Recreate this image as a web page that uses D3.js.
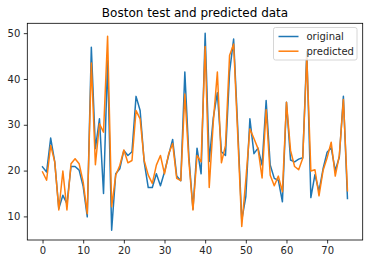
<!DOCTYPE html>
<html>
<head>
<meta charset="utf-8">
<script src="https://cdn.jsdelivr.net/npm/d3@7"></script>
<style>
  body { margin: 0; background: #fff; }
  svg { display: block; font-family: "DejaVu Sans", sans-serif; }
</style>
</head>
<body>
<div id="chart"></div>
<script>
// Data (index = test sample number)
const original = [
  20.8, 19.7, 27.1, 21.9, 11.7, 14.6, 12.8, 20.9, 20.9, 20.1,
  16.5, 9.9, 46.9, 24.8, 31.3, 15.0, 44.0, 7.0, 19.3, 20.4,
  24.4, 23.3, 24.1, 36.2, 33.1, 21.9, 16.3, 16.3, 19.3, 16.7,
  19.7, 23.3, 26.8, 18.8, 17.8, 41.5, 23.0, 11.6, 24.9, 19.3,
  50.0, 22.0, 31.5, 37.0, 24.1, 23.3, 41.5, 48.7, 29.5, 9.2,
  14.3, 31.3, 23.7, 24.9, 21.2, 35.3, 21.2, 18.3, 17.9, 13.2,
  34.9, 22.3, 21.9, 22.5, 22.8, 46.0, 14.1, 19.1, 15.5, 20.4,
  24.0, 25.0, 20.0, 22.9, 36.2, 13.9
];
const predicted = [
  19.7, 17.9, 25.5, 21.9, 11.4, 19.9, 11.4, 21.5, 22.6, 21.5,
  17.5, 10.6, 43.5, 21.3, 30.2, 28.4, 49.3, 12.1, 19.0, 21.1,
  24.5, 21.7, 22.2, 33.1, 31.3, 22.2, 19.0, 17.2, 21.2, 23.3,
  19.3, 23.6, 25.9, 18.3, 17.8, 36.7, 22.0, 11.4, 23.3, 21.9,
  47.1, 16.3, 30.6, 41.5, 21.7, 25.5, 45.1, 47.6, 28.0, 7.8,
  18.0, 29.1, 27.0, 24.8, 18.4, 33.3, 19.0, 16.7, 18.8, 15.4,
  34.9, 24.4, 20.9, 20.2, 22.7, 44.8, 19.9, 20.2, 14.5, 20.0,
  22.8, 26.2, 18.8, 23.3, 35.5, 15.6
];
const seriesNames = ["original", "predicted"];
const colors = ["#1f77b4", "#ff7f0e"];
const xTicks = [0, 10, 20, 30, 40, 50, 60, 70];
const yTicks = [10, 20, 30, 40, 50];
const title = "Boston test and predicted data";

// Dimensions
const width = 368;
const height = 264;
const marginLeft = 27.3;
const marginRight = 5.3;
const marginTop = 23.3;
const marginBottom = 24;

// Matplotlib-style 5% padding on both axes
const n = original.length;
const xPad = (n - 1) * 0.05;
const allValues = original.concat(predicted);
const [yMin, yMax] = d3.extent(allValues);
const yPad = (yMax - yMin) * 0.05;

const xScale = d3
  .scaleLinear()
  .domain([-xPad, n - 1 + xPad])
  .range([marginLeft, width - marginRight]);

const yScale = d3
  .scaleLinear()
  .domain([yMin - yPad, yMax + yPad])
  .range([height - marginBottom, marginTop]);

const svg = d3
  .create("svg")
  .attr("width", width)
  .attr("height", height)
  .attr("viewBox", [0, 0, width, height]);

// Clip lines to the axes area
svg
  .append("defs")
  .append("clipPath")
  .attr("id", "plot-area")
  .append("rect")
  .attr("x", marginLeft)
  .attr("y", marginTop)
  .attr("width", width - marginLeft - marginRight)
  .attr("height", height - marginTop - marginBottom);

// Lines
const line = d3
  .line()
  .x((d, i) => xScale(i))
  .y((d) => yScale(d));

svg
  .append("g")
  .attr("clip-path", "url(#plot-area)")
  .selectAll("path")
  .data([original, predicted])
  .join("path")
  .attr("fill", "none")
  .attr("stroke", (d, i) => colors[i])
  .attr("stroke-width", 1.5)
  .attr("stroke-linejoin", "round")
  .attr("stroke-linecap", "square")
  .attr("d", line);

// X axis
svg
  .append("g")
  .attr("transform", `translate(0,${height - marginBottom})`)
  .call(
    d3.axisBottom(xScale).tickValues(xTicks).tickSize(3.5).tickPadding(3.5),
  )
  .call((g) => g.select(".domain").remove())
  .call((g) => g.selectAll("line").attr("stroke", "#000").attr("stroke-width", 0.8))
  .call((g) =>
    g.selectAll("text").attr("fill", "#262626").attr("font-size", 10).attr("font-family", "DejaVu Sans"),
  );

// Y axis
svg
  .append("g")
  .attr("transform", `translate(${marginLeft},0)`)
  .call(d3.axisLeft(yScale).tickValues(yTicks).tickSize(3.5).tickPadding(3.5))
  .call((g) => g.select(".domain").remove())
  .call((g) => g.selectAll("line").attr("stroke", "#000").attr("stroke-width", 0.8))
  .call((g) =>
    g.selectAll("text").attr("fill", "#262626").attr("font-size", 10).attr("font-family", "DejaVu Sans"),
  );

// Frame (spines)
svg
  .append("rect")
  .attr("x", marginLeft)
  .attr("y", marginTop)
  .attr("width", width - marginLeft - marginRight)
  .attr("height", height - marginTop - marginBottom)
  .attr("fill", "none")
  .attr("stroke", "#000")
  .attr("stroke-width", 0.8);

// Title
svg
  .append("text")
  .attr("x", (marginLeft + width - marginRight) / 2)
  .attr("y", 17)
  .attr("text-anchor", "middle")
  .attr("font-size", 12)
  .attr("fill", "#000")
  .text(title);

// Legend (upper right)
const legend = svg.append("g").attr("transform", "translate(273.5,27.5)");

legend
  .append("rect")
  .attr("width", 83.5)
  .attr("height", 32.5)
  .attr("rx", 2)
  .attr("fill", "#fff")
  .attr("fill-opacity", 0.8)
  .attr("stroke", "#cccccc")
  .attr("stroke-width", 0.8);

const items = legend
  .selectAll("g.item")
  .data(seriesNames)
  .join("g")
  .attr("class", "item")
  .attr("transform", (d, i) => `translate(0,${9 + i * 14.7})`);

items
  .append("line")
  .attr("x1", 5)
  .attr("x2", 25)
  .attr("stroke", (d, i) => colors[i])
  .attr("stroke-width", 1.5);

items
  .append("text")
  .attr("x", 33)
  .attr("dy", "0.35em")
  .attr("font-size", 10)
  .attr("fill", "#262626")
  .text((d) => d);

document.getElementById("chart").appendChild(svg.node());
</script>
</body>
</html>
